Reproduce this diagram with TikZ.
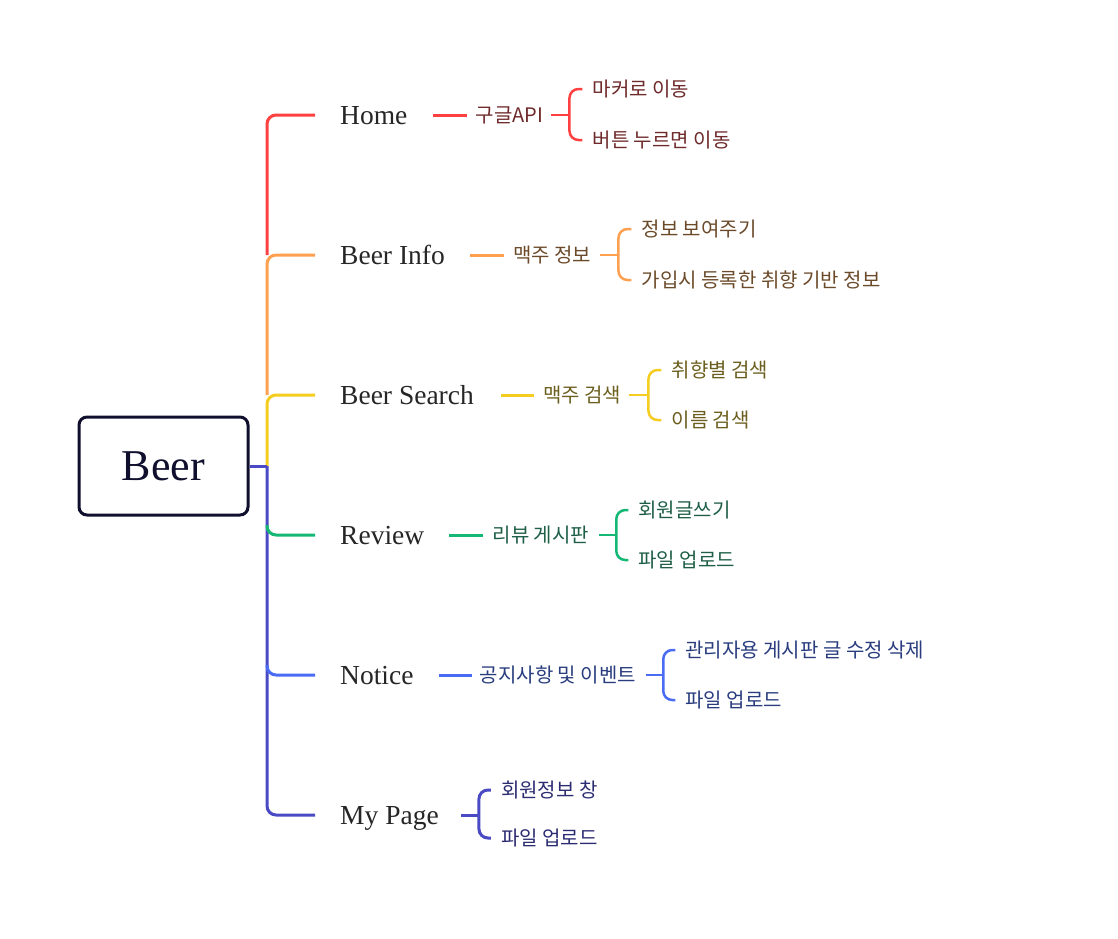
\documentclass[tikz,border=0pt]{standalone}
\usepackage{fontspec}
\setmainfont{Liberation Serif}
\newfontfamily\krfont{Noto Sans CJK KR}
\usetikzlibrary{positioning}
\definecolor{cNavy}{HTML}{10102E}
\definecolor{cRed}{HTML}{FF4040}
\definecolor{cOrange}{HTML}{FFA050}
\definecolor{cYellow}{HTML}{F5CC20}
\definecolor{cGreen}{HTML}{14B874}
\definecolor{cBlue}{HTML}{4A6CF5}
\definecolor{cIndigo}{HTML}{4A4AC4}
\definecolor{tRed}{HTML}{6E2A2A}
\definecolor{tOrange}{HTML}{6B4A2A}
\definecolor{tYellow}{HTML}{6B5E1E}
\definecolor{tGreen}{HTML}{1E5E46}
\definecolor{tBlue}{HTML}{283C7E}
\definecolor{tIndigo}{HTML}{2C2C72}
\tikzset{
    rootBox/.style={draw=cNavy, line width=3pt, rounded corners=8pt,
        minimum width=169pt, minimum height=98pt, text=cNavy,
        font=\fontsize{44}{48}\selectfont},
    topic/.style={anchor=west, inner sep=0pt, text height=22pt, text depth=3.6pt,
        text=black!85, font=\fontsize{27.5}{30}\selectfont},
    sub/.style={anchor=west, inner sep=0pt, text height=16.5pt, text depth=1.5pt,
        font=\krfont\fontsize{20}{22}\selectfont},
    branch/.style={line width=3pt, rounded corners=9pt},
    link/.style={line width=3pt},
    bracket/.style={line width=2.5pt, rounded corners=9pt},
}

\begin{document}
\begin{tikzpicture}[x=1pt,y=-1pt]
\useasboundingbox (0,0) rectangle (1118,938);
% root and trunk
\node[rootBox] (beer) at (163.5,466) {Beer};
\coordinate (trunk) at (267,466);
% main topics
\node[topic] (home) at (340,115) {Home};
\node[topic] (info) at (340,255) {Beer Info};
\node[topic] (search) at (340,395) {Beer Search};
\node[topic] (review) at (340,535) {Review};
\node[topic] (notice) at (340,675) {Notice};
\node[topic] (mypage) at (340,815) {My Page};
% second level
\node[sub, text=tRed, right=68pt of home] (homeSub) {구글API};
\node[sub, text=tOrange, right=68pt of info] (infoSub) {맥주 정보};
\node[sub, text=tYellow, right=69pt of search] (searchSub) {맥주 검색};
\node[sub, text=tGreen, right=68pt of review] (reviewSub) {리뷰 게시판};
\node[sub, text=tBlue, right=66pt of notice] (noticeSub) {공지사항 및 이벤트};
% bracket joints
\coordinate[right=26pt of homeSub] (homeJ);
\coordinate[right=27pt of infoSub] (infoJ);
\coordinate[right=27pt of searchSub] (searchJ);
\coordinate[right=27pt of reviewSub] (reviewJ);
\coordinate[right=27pt of noticeSub] (noticeJ);
\coordinate[right=40pt of mypage] (myJ);
% leaves
\node[sub, text=tRed, above right=26pt and 23pt of homeJ, anchor=west] (homeL1) {마커로 이동};
\node[sub, text=tRed, below right=25pt and 23pt of homeJ, anchor=west] (homeL2) {버튼 누르면 이동};
\node[sub, text=tOrange, above right=26pt and 23pt of infoJ, anchor=west] (infoL1) {정보 보여주기};
\node[sub, text=tOrange, below right=25pt and 23pt of infoJ, anchor=west] (infoL2) {가입시 등록한 취향 기반 정보};
\node[sub, text=tYellow, above right=25pt and 23pt of searchJ, anchor=west] (searchL1) {취향별 검색};
\node[sub, text=tYellow, below right=25pt and 23pt of searchJ, anchor=west] (searchL2) {이름 검색};
\node[sub, text=tGreen, above right=25pt and 22pt of reviewJ, anchor=west] (reviewL1) {회원글쓰기};
\node[sub, text=tGreen, below right=25pt and 22pt of reviewJ, anchor=west] (reviewL2) {파일 업로드};
\node[sub, text=tBlue, above right=25pt and 22pt of noticeJ, anchor=west] (noticeL1) {관리자용 게시판 글 수정 삭제};
\node[sub, text=tBlue, below right=25pt and 22pt of noticeJ, anchor=west] (noticeL2) {파일 업로드};
\node[sub, text=tIndigo, above right=25pt and 22pt of myJ, anchor=west] (myL1) {회원정보 창};
\node[sub, text=tIndigo, below right=23pt and 22pt of myJ, anchor=west] (myL2) {파일 업로드};

% trunk branches
\draw[branch, cRed] (trunk |- info) |- ([xshift=-25pt]home.west);
\draw[branch, cOrange] (trunk |- search) |- ([xshift=-25pt]info.west);
\draw[branch, cYellow] (trunk) |- ([xshift=-25pt]search.west);
\draw[link, cIndigo] (beer.east) -- (trunk);
\draw[branch, cIndigo] (trunk) |- ([xshift=-25pt]mypage.west);
\draw[branch, cGreen] ([yshift=10pt]trunk |- review) |- ([xshift=-25pt]review.west);
\draw[branch, cBlue] ([yshift=10pt]trunk |- notice) |- ([xshift=-25pt]notice.west);

% topic to second level
\draw[link, cRed] ([xshift=25pt]home.east) -- ([xshift=-9pt]homeSub.west);
\draw[link, cOrange] ([xshift=25pt]info.east) -- ([xshift=-9pt]infoSub.west);
\draw[link, cYellow] ([xshift=27pt]search.east) -- ([xshift=-9pt]searchSub.west);
\draw[link, cGreen] ([xshift=25pt]review.east) -- ([xshift=-9pt]reviewSub.west);
\draw[link, cBlue] ([xshift=25pt]notice.east) -- ([xshift=-8pt]noticeSub.west);
\draw[link, cIndigo] ([xshift=22pt]mypage.east) -- (myJ);

% brackets
\draw[link, cRed, line width=2.5pt] ([xshift=8pt]homeSub.east) -- (homeJ);
\draw[bracket, cRed] ([xshift=-10pt]homeL1.west) -| (homeJ) |- ([xshift=-10pt]homeL2.west);
\draw[link, cOrange, line width=2.5pt] ([xshift=9pt]infoSub.east) -- (infoJ);
\draw[bracket, cOrange] ([xshift=-10pt]infoL1.west) -| (infoJ) |- ([xshift=-10pt]infoL2.west);
\draw[link, cYellow, line width=2.5pt] ([xshift=8pt]searchSub.east) -- (searchJ);
\draw[bracket, cYellow] ([xshift=-10pt]searchL1.west) -| (searchJ) |- ([xshift=-10pt]searchL2.west);
\draw[link, cGreen, line width=2.5pt] ([xshift=10pt]reviewSub.east) -- (reviewJ);
\draw[bracket, cGreen] ([xshift=-10pt]reviewL1.west) -| (reviewJ) |- ([xshift=-10pt]reviewL2.west);
\draw[link, cBlue, line width=2.5pt] ([xshift=10pt]noticeSub.east) -- (noticeJ);
\draw[bracket, cBlue] ([xshift=-10pt]noticeL1.west) -| (noticeJ) |- ([xshift=-10pt]noticeL2.west);
\draw[bracket, cIndigo, line width=3pt] ([xshift=-10pt]myL1.west) -| (myJ) |- ([xshift=-10pt]myL2.west);
\end{tikzpicture}
\end{document}
